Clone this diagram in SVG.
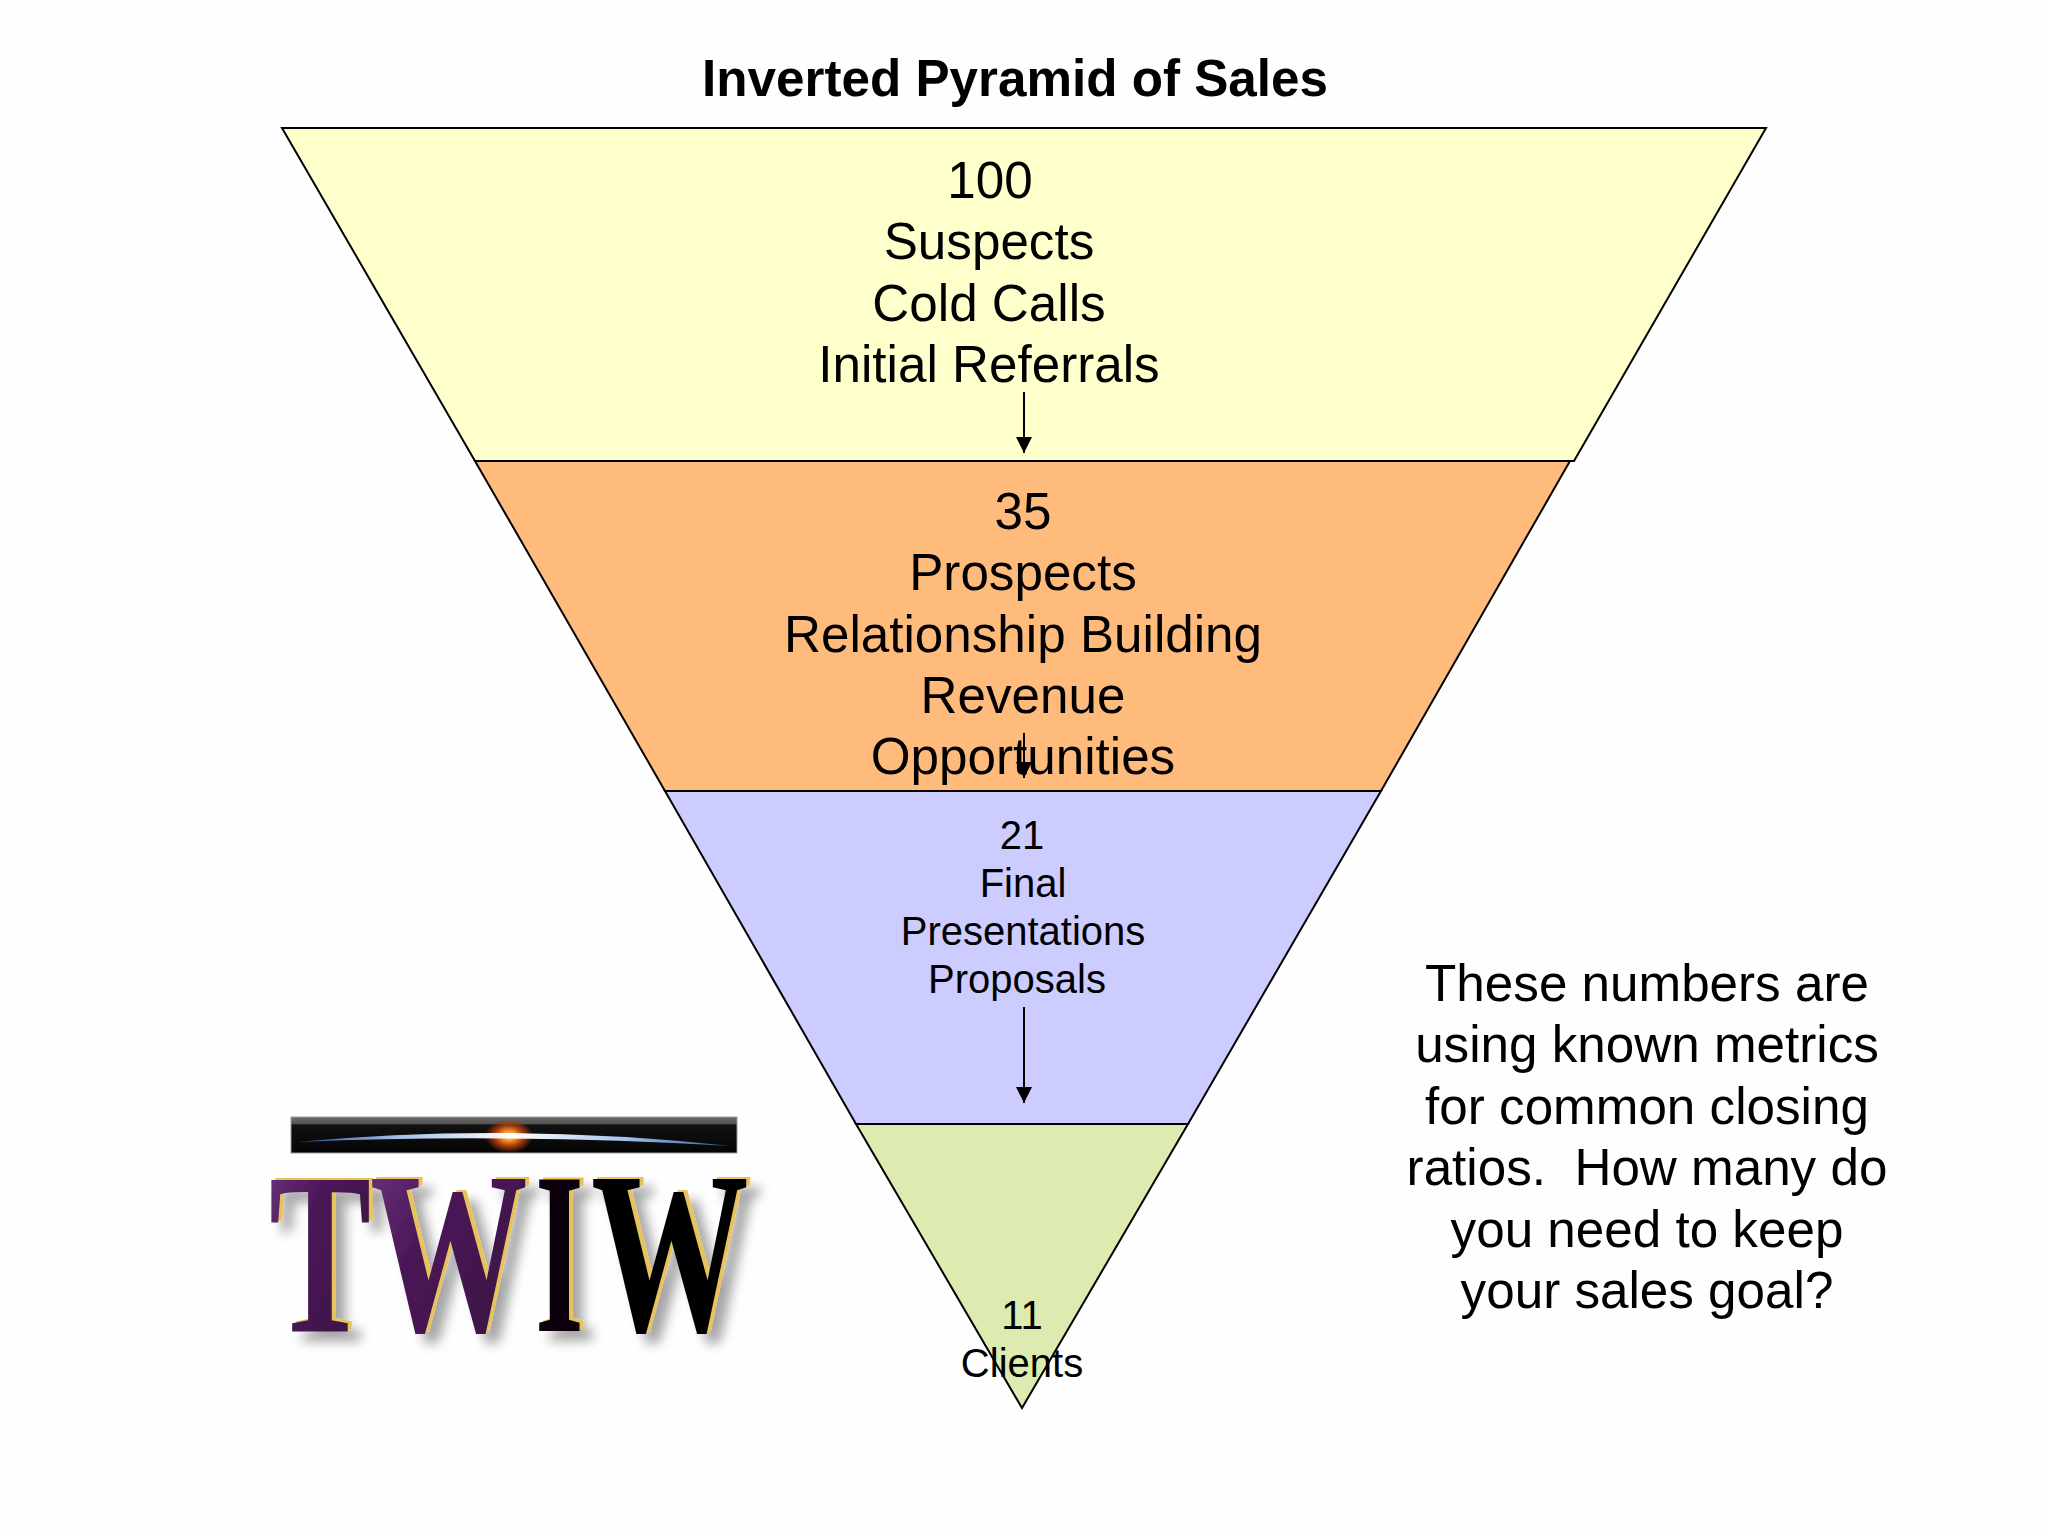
<svg xmlns="http://www.w3.org/2000/svg" width="2048" height="1536" viewBox="0 0 2048 1536">
<defs>
<style>
text{font-family:"Liberation Sans",Arial,sans-serif;fill:#000;text-anchor:middle}
.l{font-size:51.2px}.s{font-size:40px}.t{font-size:51.2px;font-weight:bold}
.n{stroke:#000;stroke-width:2;stroke-linejoin:miter}
.c{stroke:#000;stroke-width:2;fill:none;marker-end:url(#ah)}
.lg{font-family:"Liberation Serif","Times New Roman",serif;font-size:232px;font-weight:bold;text-anchor:start}
</style>
<marker id="ah" markerUnits="userSpaceOnUse" markerWidth="18" markerHeight="18" refX="16" refY="8" orient="auto"><path d="M0 0L16 8L0 16Z" fill="#000"/></marker>
<linearGradient id="bar" x1="0" y1="0" x2="0" y2="1"><stop offset="0" stop-color="#6a6a6a"/><stop offset=".18" stop-color="#555"/><stop offset=".22" stop-color="#111"/><stop offset="1" stop-color="#050505"/></linearGradient>
<linearGradient id="hz" x1="0" y1="0" x2="1" y2="0"><stop offset="0" stop-color="#2a5aa8"/><stop offset=".25" stop-color="#a8c4ea"/><stop offset=".5" stop-color="#fff"/><stop offset=".75" stop-color="#a8c4ea"/><stop offset="1" stop-color="#2a5aa8"/></linearGradient>
<radialGradient id="sun"><stop offset="0" stop-color="#fff0b0"/><stop offset=".25" stop-color="#f9a030"/><stop offset=".6" stop-color="#a83a08"/><stop offset="1" stop-color="#a83a08" stop-opacity="0"/></radialGradient>
<linearGradient id="pur" x1="0" y1="0" x2="1" y2="1"><stop offset="0" stop-color="#6d3a80"/><stop offset=".4" stop-color="#4a1656"/><stop offset="1" stop-color="#35103f"/></linearGradient>
<filter id="sh" x="-20%" y="-20%" width="150%" height="150%"><feGaussianBlur in="SourceAlpha" stdDeviation="6"/><feOffset dx="10" dy="10"/><feComponentTransfer><feFuncA type="linear" slope=".35"/></feComponentTransfer><feMerge><feMergeNode/><feMergeNode in="SourceGraphic"/></feMerge></filter>
</defs>
<rect width="2048" height="1536" fill="#fefefe"/>
<text id="title" class="t" x="1015" y="96">Inverted Pyramid of Sales</text>
<g id="tier-suspects">
<polygon class="n" fill="#ffffcc" points="282,128 1766,128 1574,461 475,461"/>
<text class="l"><tspan x="990" y="198">100</tspan><tspan x="989" y="259.400">Suspects</tspan><tspan x="989" y="320.800">Cold Calls</tspan><tspan x="989" y="382.200">Initial Referrals</tspan></text>
</g>
<g id="tier-prospects">
<polygon class="n" fill="#ffbb7c" points="475,461 1570,461 1381,791 665,791"/>
<text class="l"><tspan x="1023" y="529">35</tspan><tspan x="1023" y="590.400">Prospects</tspan><tspan x="1023" y="651.800">Relationship Building</tspan><tspan x="1023" y="713.200">Revenue</tspan><tspan x="1023" y="774">Opportunities</tspan></text>
</g>
<g id="tier-presentations">
<polygon class="n" fill="#ccccff" points="665,791 1381,791 1188,1124 856,1124"/>
<text class="s"><tspan x="1022" y="849">21</tspan><tspan x="1023" y="897">Final</tspan><tspan x="1023" y="945">Presentations</tspan><tspan x="1017" y="993">Proposals</tspan></text>
</g>
<g id="tier-clients">
<polygon class="n" fill="#ddebb0" points="856,1124 1188,1124 1022,1408"/>
<text class="s"><tspan x="1022" y="1329">11</tspan><tspan x="1022" y="1377">Clients</tspan></text>
</g>
<g id="connectors">
<path class="c" d="M1024 392V453"/>
<path class="c" d="M1024 733V778"/>
<path class="c" d="M1024 1007V1103"/>
</g>
<g id="note">
<text class="l"><tspan x="1647" y="1001">These numbers are</tspan><tspan x="1647" y="1062.400">using known metrics</tspan><tspan x="1647" y="1123.800">for common closing</tspan><tspan x="1647" y="1185.200" xml:space="preserve">ratios.  How many do</tspan><tspan x="1647" y="1246.600">you need to keep</tspan><tspan x="1647" y="1308">your sales goal?</tspan></text>
</g>
<g id="logo">
<rect x="291" y="1117" width="446" height="36" fill="url(#bar)" stroke="#999" stroke-width="1"/>
<ellipse cx="509" cy="1136" rx="24" ry="17" fill="url(#sun)"/>
<path d="M297 1142Q509 1122 731 1146Q509 1133 297 1142Z" fill="url(#hz)"/>
<g filter="url(#sh)">
<g>
<text class="lg" style="fill:#e8c35c" transform="translate(273,1329) scale(.66,1)">T</text>
<text class="lg" style="fill:#e8c35c" transform="translate(374,1329) scale(.68,1)">W</text>
<text class="lg" style="fill:#e8c35c" transform="translate(539,1329) scale(.54,1)">I</text>
<text class="lg" style="fill:#e8c35c" transform="translate(595,1329) scale(.68,1)">W</text>
</g>
<text class="lg" style="fill:url(#pur)" transform="translate(269,1331) scale(.66,1)">T</text>
<text class="lg" style="fill:url(#pur)" transform="translate(370,1331) scale(.68,1)">W</text>
<text class="lg" style="fill:#0a0508" transform="translate(535,1331) scale(.54,1)">I</text>
<text class="lg" style="fill:#050305" transform="translate(591,1331) scale(.68,1)">W</text>
</g>
</g>
</svg>
